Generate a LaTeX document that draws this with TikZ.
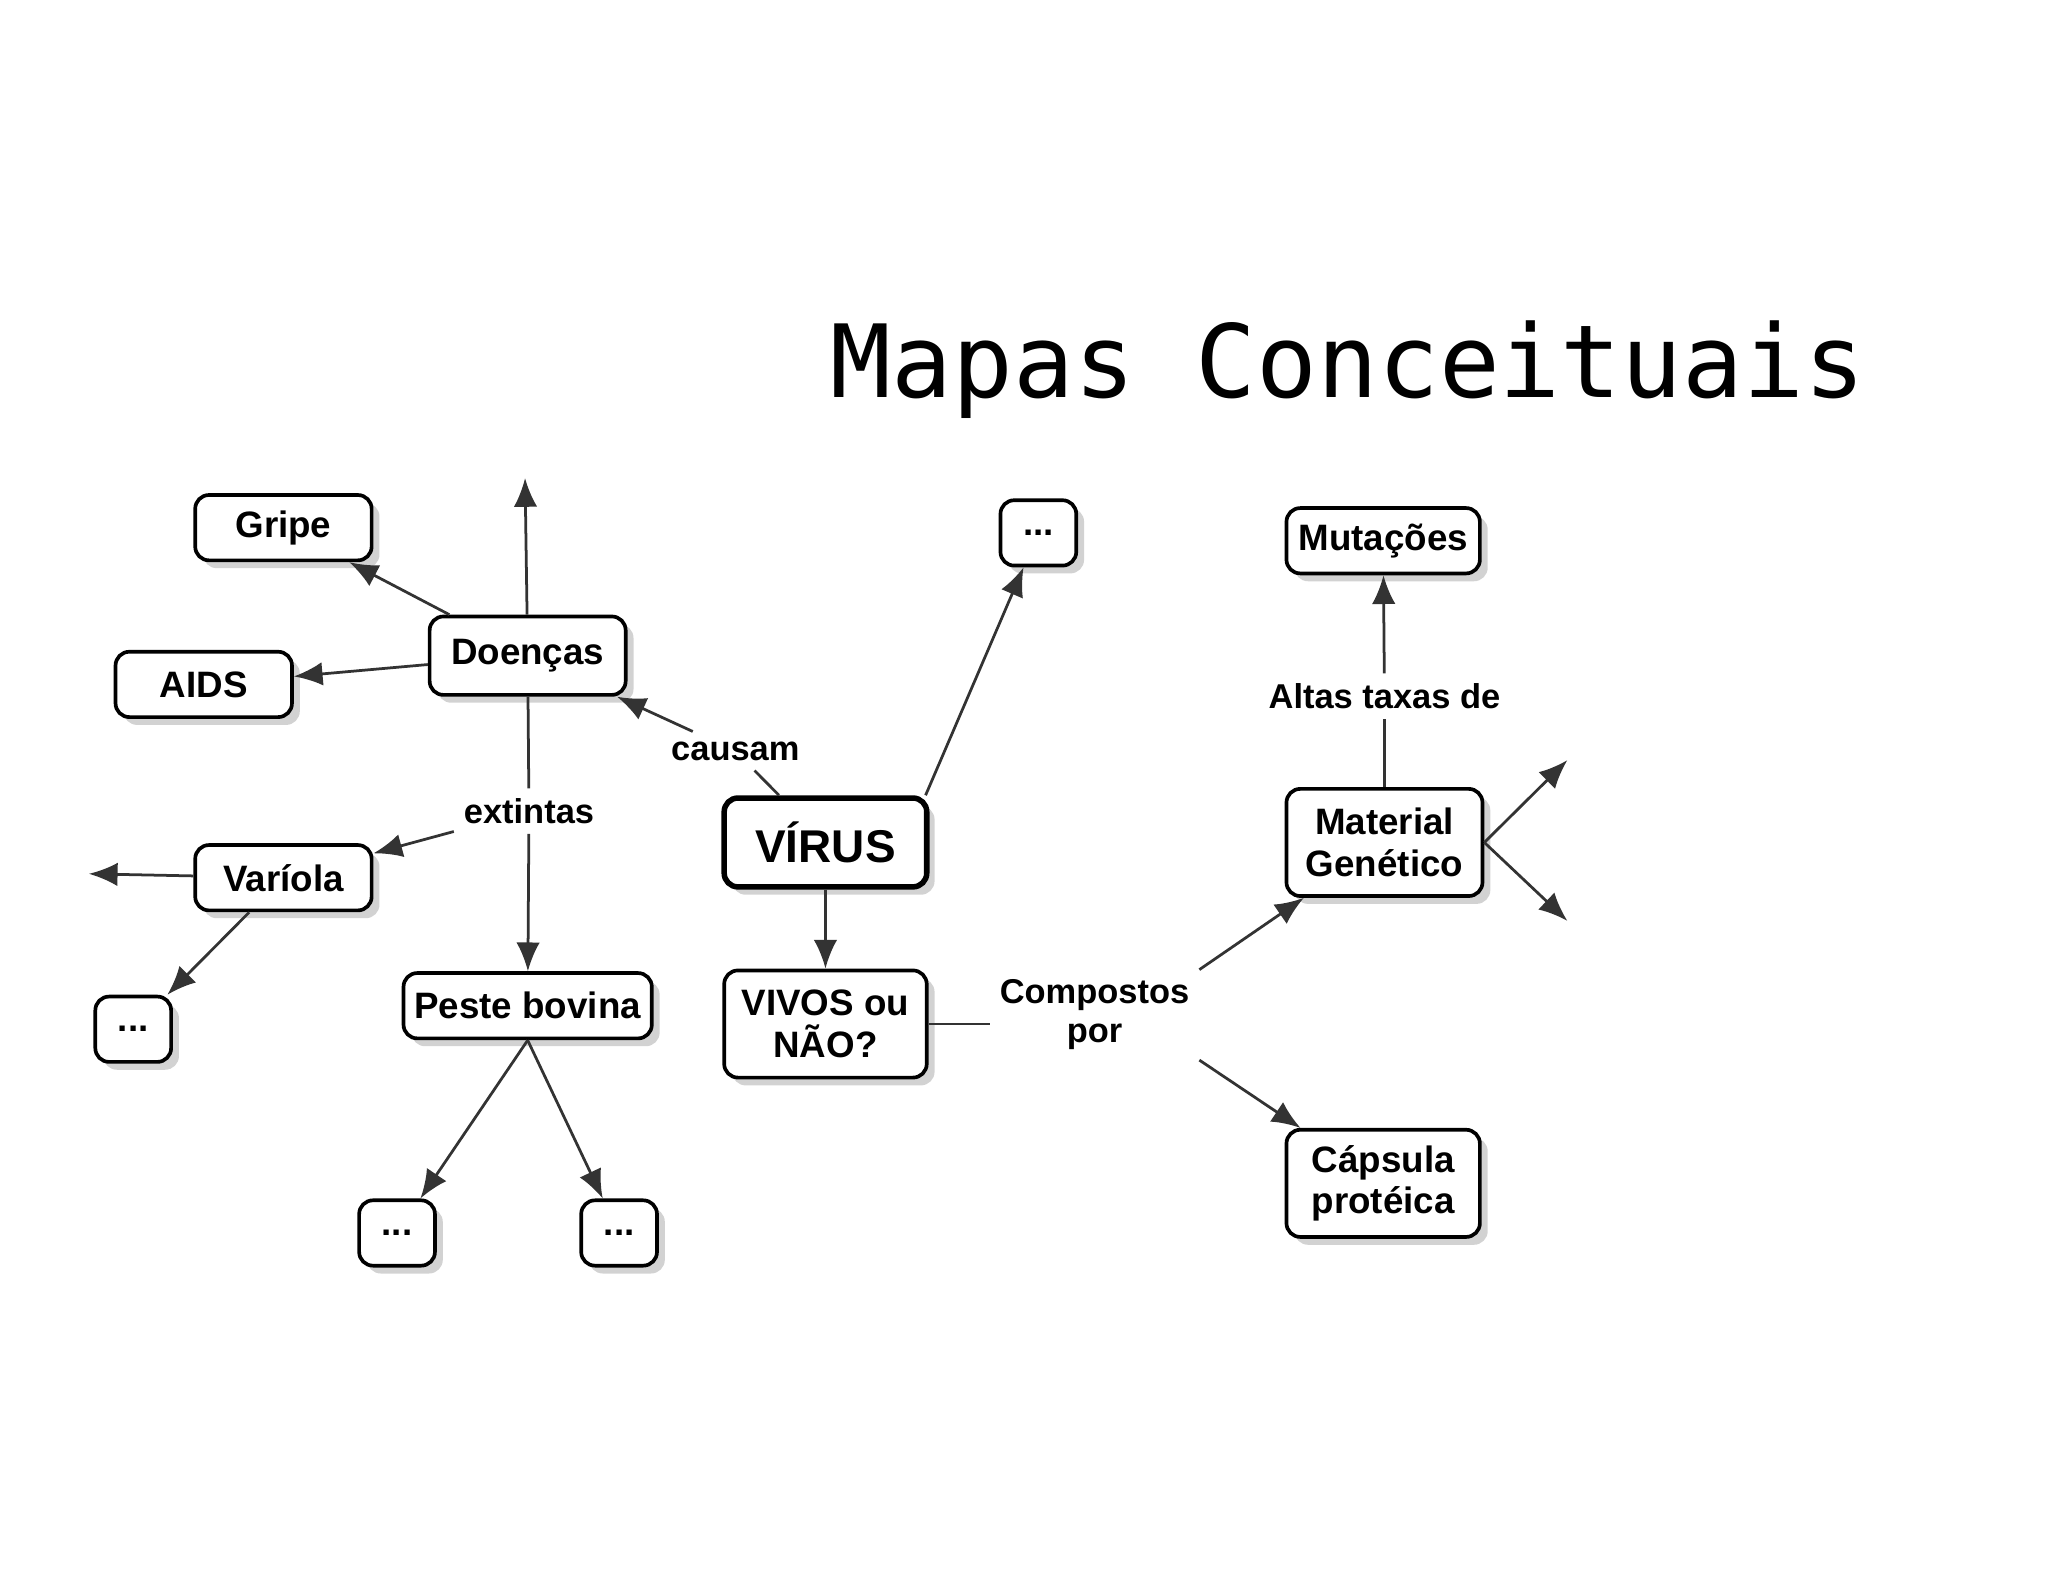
\documentclass[tikz,border=0pt]{standalone}
\usepackage{fontspec}
\setmainfont{Liberation Sans}
\setmonofont{DejaVu Sans Mono}
\usetikzlibrary{arrows.meta, shadows}

\tikzset{
    concept/.style={draw=black,thick,rounded corners=3pt,fill=white,align=center,
        font=\bfseries\fontsize{8}{9}\selectfont,inner sep=0pt,
        drop shadow={shadow xshift=0.6mm,shadow yshift=-0.6mm,fill=black!35}},
    linkword/.style={font=\bfseries\fontsize{7.5}{8.5}\selectfont,align=center,inner sep=2pt},
    link/.style={draw=black!80,semithick},
    arrow/.style={link,-{Latex[length=2.2mm,width=1.8mm]}}
}

\begin{document}
\begin{tikzpicture}[x=0.01cm,y=-0.01cm]
\useasboundingbox (0,0) rectangle (1568,1211);

\node[font=\ttfamily\fontsize{22}{24}\selectfont] (title) at (1032,283) {Mapas Conceituais};

% concepts
\node (gripe) at (217,404) [concept,minimum width=1.35cm,minimum height=0.5cm] {Gripe};
\node (aids) at (156,524) [concept,minimum width=1.35cm,minimum height=0.5cm] {AIDS};
\node (doencas) at (404,502) [concept,minimum width=1.5cm,minimum height=0.6cm] {Doenças};
\node (variola) at (217,672) [concept,minimum width=1.35cm,minimum height=0.5cm] {Varíola};
\node (dotsvar) at (102,788) [concept,minimum width=0.58cm,minimum height=0.5cm] {...};
\node (peste) at (404,770) [concept,minimum width=1.9cm,minimum height=0.5cm] {Peste bovina};
\node (dotspa) at (304,944) [concept,minimum width=0.58cm,minimum height=0.5cm] {...};
\node (dotspb) at (474,944) [concept,minimum width=0.58cm,minimum height=0.5cm] {...};
\node (virus) at (632,645) [concept,very thick,minimum width=1.55cm,minimum height=0.68cm,font=\bfseries\fontsize{10}{12}\selectfont] {VÍRUS};
\node (dotsvir) at (795,408) [concept,minimum width=0.58cm,minimum height=0.5cm] {...};
\node (vivos) at (632,784) [concept,minimum width=1.55cm,minimum height=0.82cm] {VIVOS ou\\NÃO?};
\node (mutacoes) at (1059,414) [concept,minimum width=1.48cm,minimum height=0.5cm] {Mutações};
\node (material) at (1060,645) [concept,minimum width=1.5cm,minimum height=0.82cm] {Material\\Genético};
\node (capsula) at (1059,906) [concept,minimum width=1.48cm,minimum height=0.82cm] {Cápsula\\protéica};

% linking words
\node (causam) at (563,575) [linkword] {causam};
\node (extintas) at (405,621) [linkword] {extintas};
\node (compostos) at (838,777) [linkword] {Compostos\\por};
\node (altas) at (1060,533) [linkword] {Altas taxas de};

% free ends
\coordinate (up) at (402,366);
\coordinate (left) at (68,669);
\coordinate (ne) at (1200,582);
\coordinate (se) at (1200,705);

\draw[arrow] (doencas) -- (up);
\draw[arrow] (doencas) -- (gripe);
\draw[arrow] (doencas) -- (aids);
\draw[link] (doencas) -- (extintas);
\draw[arrow] (extintas) -- (peste);
\draw[arrow] (extintas) -- (variola);
\draw[link] (virus) -- (causam);
\draw[arrow] (causam) -- (doencas);
\draw[arrow] (virus.north east) ++(-3,0) -- (dotsvir);
\draw[arrow] (variola) -- (left);
\draw[arrow] (variola) -- (dotsvar);
\draw[arrow] (peste.south) -- (dotspa);
\draw[arrow] (peste.south) -- (dotspb);
\draw[arrow] (virus) -- (vivos);
\draw[link] (vivos) -- (compostos.west |- vivos);
\draw[arrow] (compostos.north east) -- (material);
\draw[arrow] (compostos.south east) -- (capsula);
\draw[link] (material) -- (altas);
\draw[arrow] (altas) -- (mutacoes);
\draw[arrow] (material.east) -- (ne);
\draw[arrow] (material.east) -- (se);
\end{tikzpicture}
\end{document}
